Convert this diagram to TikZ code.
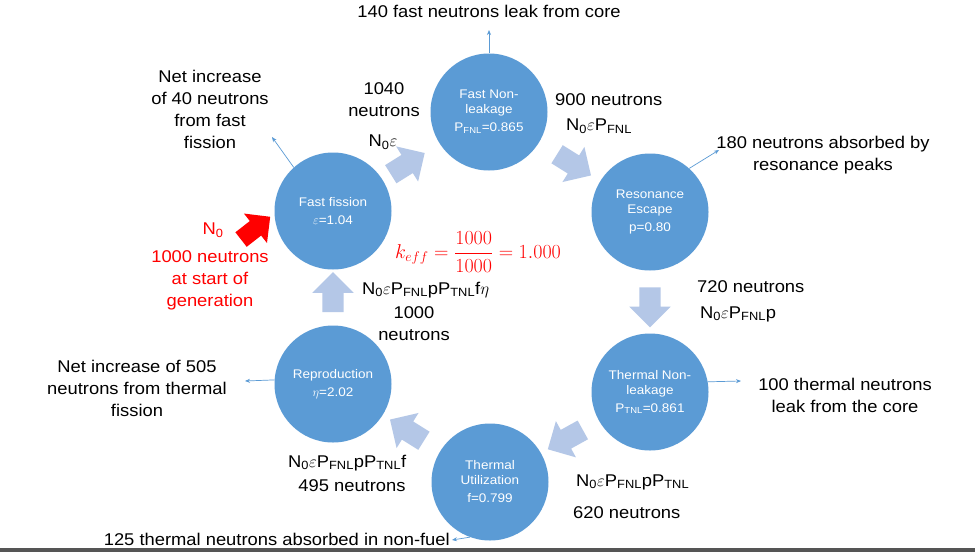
\RequirePackage{fix-cm}
\documentclass[tikz,border=0pt]{standalone}
\usepackage[no-math]{fontspec}
\setmainfont[FakeStretch=1.08]{Liberation Sans}
\usepackage{xcolor}
\usetikzlibrary{shapes.arrows,arrows.meta,positioning,calc}
\definecolor{stageblue}{HTML}{5B9BD5}
\definecolor{flowblue}{HTML}{B4C7E7}
\definecolor{leakblue}{HTML}{5B9BD5}
\definecolor{startred}{HTML}{FF0000}
\definecolor{barGray}{HTML}{555555}
\newcommand{\Neps}{N\textsubscript{0}$\varepsilon$}
\newcommand{\Pfnl}{P\textsubscript{FNL}}
\newcommand{\Ptnl}{P\textsubscript{TNL}}

\begin{document}
\begin{tikzpicture}[x=1pt,y=-1pt,
    stage/.style={circle,fill=stageblue,minimum size=117pt,inner sep=0pt,
      text=white,align=center,font=\fontsize{12.5}{15}\selectfont},
    flow/.style={single arrow,fill=flowblue,minimum height=40pt,inner sep=10.5pt,
      single arrow head extend=10pt},
    leak/.style={-{Stealth[length=5pt,width=4pt]},draw=leakblue,line width=0.7pt},
    lbl/.style={font=\fontsize{17}{22}\selectfont,align=center,inner sep=0pt}]
  \useasboundingbox (0,0) rectangle (975,552);
  \fill[white] (0,0) rectangle (975,552);

  % the six stages of the cycle
  \node[stage] (ff)  at (333,211) {Fast fission\\[3pt]$\varepsilon$=1.04};
  \node[stage] (fnl) at (489,112) {Fast Non-\\leakage\\[3pt]\Pfnl=0.865};
  \node[stage] (res) at (650,212) {Resonance\\Escape\\[3pt]p=0.80};
  \node[stage] (tnl) at (650,392) {Thermal Non-\\leakage\\[3pt]\Ptnl=0.861};
  \node[stage] (tu)  at (490,482) {Thermal\\Utilization\\[3pt]f=0.799};
  \node[stage] (rep) at (333,384) {Reproduction\\[3pt]$\eta$=2.02};

  % flow arrows between stages
  \node[flow,rotate=32]  (a1) at ($(ff)!0.45!(fnl)$) {};
  \node[flow,rotate=-32] (a2) at ($(fnl)!0.5!(res)$) {};
  \node[flow,rotate=-90] (a3) at ($(res)!0.5!(tnl)$) {};
  \node[flow,rotate=209] (a4) at ($(tnl)!0.5!(tu)$) {};
  \node[flow,rotate=148] (a5) at ($(tu)!0.5!(rep)$) {};
  \node[flow,rotate=90]  (a6) at ($(rep)!0.5!(ff)$) {};

  % start of generation
  \node[flow,fill=startred,rotate=38,minimum height=37pt,inner sep=9pt,
    single arrow head extend=9.5pt] (start) at (252,231) {};
  \node[lbl,text=startred] (n0) at (213,230) {N\textsubscript{0}};
  \node[lbl,text=startred] (n0txt) at (210,280) {1000 neutrons\\at start of\\generation};

  % neutron counts along the cycle
  \node[lbl] (c1) at (384,100) {1040\\neutrons};
  \node[lbl] (f1) at (383,142) {\Neps};
  \node[lbl,anchor=west] (c2) at (555,100) {900 neutrons};
  \node[lbl,anchor=west] (f2) at (566,126) {\Neps\Pfnl};
  \node[lbl,anchor=west] (c3) at (697,287) {720 neutrons};
  \node[lbl,anchor=west] (f3) at (700,314) {\Neps\Pfnl p};
  \node[lbl,anchor=west] (f4) at (576,482) {\Neps\Pfnl p\Ptnl};
  \node[lbl,anchor=west] (c4) at (573,513) {620 neutrons};
  \node[lbl,anchor=west] (f5) at (288,463) {\Neps\Pfnl p\Ptnl f};
  \node[lbl] (c5) at (352,486) {495 neutrons};
  \node[lbl,anchor=west] (f6) at (362,290) {\Neps\Pfnl p\Ptnl f$\eta$};
  \node[lbl] (c6) at (414,324) {1000\\neutrons};
  \node[lbl,text=startred,font=\fontsize{20}{24}\selectfont] (keff) at (478,252)
    {$\displaystyle k_{eff}=\frac{1000}{1000}=1.000$};

  % gains and losses
  \node[lbl] (lossfnl) at (489,11) {140 fast neutrons leak from core};
  \node[lbl] (gainff) at (210,109) {Net increase\\of 40 neutrons\\from fast\\fission};
  \node[lbl] (lossres) at (823,155) {180 neutrons absorbed by\\resonance peaks};
  \node[lbl] (losstnl) at (845,395) {100 thermal neutrons\\leak from the core};
  \node[lbl,anchor=east] (losstu) at (450,539) {125 thermal neutrons absorbed in non-fuel};
  \node[lbl] (gainrep) at (137,388) {Net increase of 505\\neutrons from thermal\\fission};

  \coordinate (endfnl) at (489,30);
  \coordinate (endff) at (272,137);
  \coordinate (endres) at (719,150);
  \coordinate (endtnl) at (741,381);
  \coordinate (endtu) at (452,540);
  \coordinate (endrep) at (245,381);
  \draw[leak] (fnl.north) -- (endfnl);
  \draw[leak] (ff.132) -- (endff);
  \draw[leak] (res.48) -- (endres);
  \draw[leak] (tnl.10) -- (endtnl);
  \draw[leak] (tu.250) -- (endtu);
  \draw[leak] (rep.176) -- (endrep);

  % window edge
  \fill[barGray] (0,548) rectangle (975,552);
\end{tikzpicture}
\end{document}
